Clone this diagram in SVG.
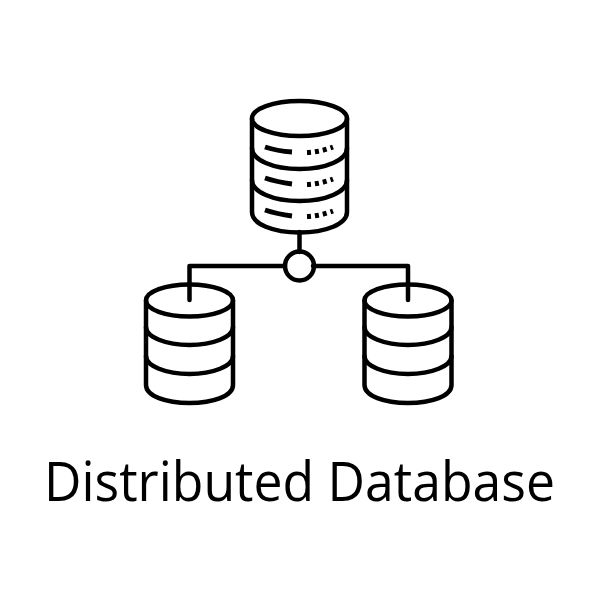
<svg xmlns="http://www.w3.org/2000/svg" width="600" height="600" viewBox="0 0 600 600">
<style>
.s{fill:none;stroke:#000;stroke-width:4.5;stroke-linecap:round;stroke-linejoin:round}
.l{fill:none;stroke:#000;stroke-width:5;stroke-linecap:butt}
.d{fill:none;stroke:#000;stroke-width:5;stroke-dasharray:4 4;stroke-linecap:butt}
.t{font-family:"Open Sans","Noto Sans",sans-serif;font-size:54px;fill:#000}
</style>
<rect width="600" height="600" fill="#fff"/>
<g id="connectors">
<path class="s" d="M299.500 232V252M285 266H189.500V300M313 266H408V300"/>
</g>
<g id="hub"><circle class="s" cx="299.500" cy="266" r="14.500"/></g>
<g id="db-top">
<ellipse class="s" cx="299.500" cy="118.500" rx="47.500" ry="17.500"/>
<path class="s" d="M252 118.500V212C252 224 273 232.500 299.500 232.500S347 224 347 212V118.500"/>
<path class="s" d="M252 148C252 160 273 169 299.500 169S347 160 347 148"/>
<path class="s" d="M252 180C252 192 273 201 299.500 201S347 192 347 180"/>
<path class="l" d="M265 147Q277 151 292 152M265 178Q277 182 292 184M265 210Q277 214 292 216"/>
<path class="d" d="M307 152.500Q320 152 333 147M307 184.500Q320 184 333 179M307 216.500Q320 216 333 211"/>
</g>
<g id="db-left">
<ellipse class="s" cx="189.500" cy="300.500" rx="43.500" ry="16"/>
<path class="s" d="M146 300.500V385C146 396 166 403 189.500 403S233 396 233 385V300.500"/>
<path class="s" d="M146 327C146 337 166 345 189.500 345S233 337 233 327"/>
<path class="s" d="M146 356C146 366 166 374 189.500 374S233 366 233 356"/>
</g>
<g id="db-right">
<ellipse class="s" cx="408" cy="300.500" rx="43.500" ry="16"/>
<path class="s" d="M364.500 300.500V385C364.500 396 384.500 403 408 403S451.500 396 451.500 385V300.500"/>
<path class="s" d="M364.500 327C364.500 337 384.500 345 408 345S451.500 337 451.500 327"/>
<path class="s" d="M364.500 356C364.500 366 384.500 374 408 374S451.500 366 451.500 356"/>
</g>
<text class="t" x="44" y="501" textLength="511" lengthAdjust="spacingAndGlyphs">Distributed Database</text>
</svg>
